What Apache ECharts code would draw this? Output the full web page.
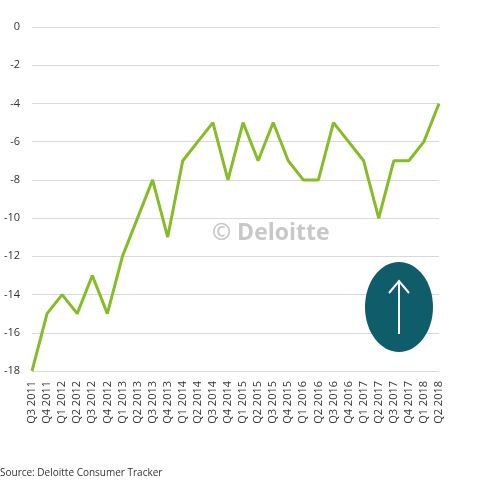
<!DOCTYPE html>
<html><head><meta charset="utf-8">
<script src="https://cdn.jsdelivr.net/npm/echarts@6/dist/echarts.min.js"></script>
<style>html,body{margin:0;padding:0;background:#fff}#c{width:481px;height:481px}</style>
</head><body><div id="c"></div>
<script>
const categories = ["Q3 2011","Q4 2011","Q1 2012","Q2 2012","Q3 2012","Q4 2012","Q1 2013","Q2 2013","Q3 2013","Q4 2013","Q1 2014","Q2 2014","Q3 2014","Q4 2014","Q1 2015","Q2 2015","Q3 2015","Q4 2015","Q1 2016","Q2 2016","Q3 2016","Q4 2016","Q1 2017","Q2 2017","Q3 2017","Q4 2017","Q1 2018","Q2 2018"];
const values = [-18,-15,-14,-15,-13,-15,-12,-10,-8,-11,-7,-6,-5,-8,-5,-7,-5,-7,-8,-8,-5,-6,-7,-10,-7,-7,-6,-4];
const chart = echarts.init(document.getElementById('c'));
chart.setOption({
  animation:false,
  grid:{left:32,right:42,top:27,bottom:110},
  xAxis:{type:'category',data:categories,boundaryGap:false,
    axisLine:{show:false},axisTick:{show:false},
    axisLabel:{rotate:90,interval:0,color:'#333',fontSize:11,fontFamily:'Open Sans',margin:10}},
  yAxis:{type:'value',min:-18,max:0,interval:2,
    axisLabel:{color:'#333',fontSize:11,fontFamily:'Open Sans',margin:12},
    splitLine:{lineStyle:{color:'#d9d9d9'}}},
  series:[{type:'line',data:values,symbol:'none',lineStyle:{color:'#86bc25',width:3}}],
  graphic:[
    {type:'text',left:212,top:222,z:10,style:{text:'© Deloitte',fill:'#c8c8c8',font:'bold 23px "Open Sans"'}},
    {type:'group',z:100,children:[
      {type:'ellipse',z:100,shape:{cx:399,cy:307,rx:34,ry:45},style:{fill:'#0f5c6b'}},
      {type:'line',z:101,shape:{x1:399,y1:334,x2:399,y2:281},style:{stroke:'#fff',lineWidth:2}},
      {type:'polyline',z:101,shape:{points:[[389,293],[399,281],[409,293]]},style:{stroke:'#fff',lineWidth:2,fill:null}}
    ]},
    {type:'text',left:0,top:468,style:{text:'Source: Deloitte Consumer Tracker',fill:'#333',font:'10px "Open Sans"'}}
  ]
});
</script></body></html>
